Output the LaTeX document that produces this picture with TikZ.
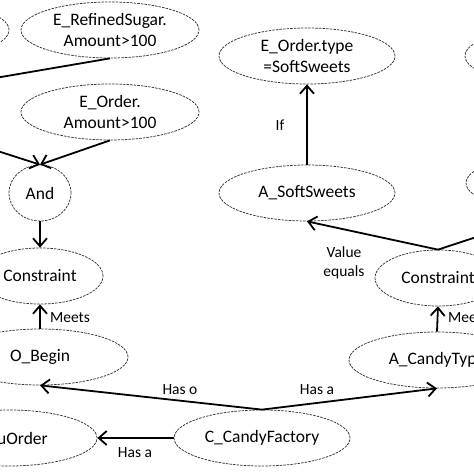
\documentclass[tikz,border=0pt]{standalone}
\usepackage{fontspec}
\setmainfont{Carlito}
\usetikzlibrary{arrows.meta,shapes.geometric}
\begin{document}
\begin{tikzpicture}[x=1pt,y=-1pt,
  oval/.style={ellipse, draw=black!80, line width=0.75pt, dash pattern=on 2.5pt off 1.1pt,
    minimum width=176pt, minimum height=56pt, inner sep=0pt, align=center,
    font=\fontsize{17.5}{21}\selectfont},
  link/.style={line width=1.8pt, -{Straight Barb[length=8pt,width=14pt]}},
  plainline/.style={line width=1.8pt},
  lab/.style={font=\fontsize{15.5}{18.5}\selectfont, align=center, inner sep=0pt}]
\useasboundingbox (0,0) rectangle (474,474);
\clip (0,0) rectangle (474,474);
% nodes
\node[oval] (tl) at (-79,30) {};
\node[oval, minimum width=178pt] (rs) at (110,30) {E\_RefinedSugar.\\Amount>100};
\node[oval, minimum width=178pt] (eo) at (110,112) {E\_Order.\\Amount>100};
\node[oval] (eot) at (307,56) {E\_Order.type\\=SoftSweets};
\node[oval] (tr) at (553,56) {};
\node[oval, minimum width=62pt] (and) at (40,193) {And};
\node[oval] (ss) at (307,193) {A\_SoftSweets};
\node[oval] (mr) at (554,183) {};
\node[oval, minimum width=126pt] (conL) at (40,276) {Constraint};
\node[oval, minimum width=126pt] (conR) at (438,278) {Constraint};
\node[oval] (ob) at (40,357) {O\_Begin};
\node[oval] (ct) at (437,360) {A\_CandyType};
\node[oval] (uo) at (9,438) {};
\node[anchor=east, inner sep=0pt, font=\fontsize{17.5}{21}\selectfont] (uot) at (48,438) {uOrder};
\node[oval] (cf) at (262,438) {C\_CandyFactory};
% free ends
\coordinate (offL1) at (-40,84);
\coordinate (offL2) at (-40,139);
\coordinate (offR) at (510,226);
% connectors
\draw[plainline] (rs.south) -- (offL1);
\draw[link] (eo.south) -- (and.north);
\draw[link] (offL2) -- (and.north);
\draw[link] (and.south) -- (conL.north);
\draw[link] (ob.north) -- (conL.south);
\draw[link] (cf.north) -- (ob.south);
\draw[link] (cf.north) -- (ct.south);
\draw[link] (cf.west) -- (uo.east);
\draw[link] (ct.north) -- (conR.south);
\draw[link] (conR.north) -- (ss.south);
\draw[plainline] (conR.north) -- (offR);
\draw[link] (ss.north) -- (eot.south);
% labels
\node[lab] (l1) at (70,318) {Meets};
\node[lab] (l2) at (180,390) {Has o};
\node[lab] (l3) at (317,390) {Has a};
\node[lab] (l4) at (135,453) {Has a};
\node[lab, anchor=west] (l5) at (448,318) {Meets};
\node[lab] (l6) at (344,263) {Value\\equals};
\node[lab] (l7) at (280,125) {If};
\end{tikzpicture}
\end{document}
